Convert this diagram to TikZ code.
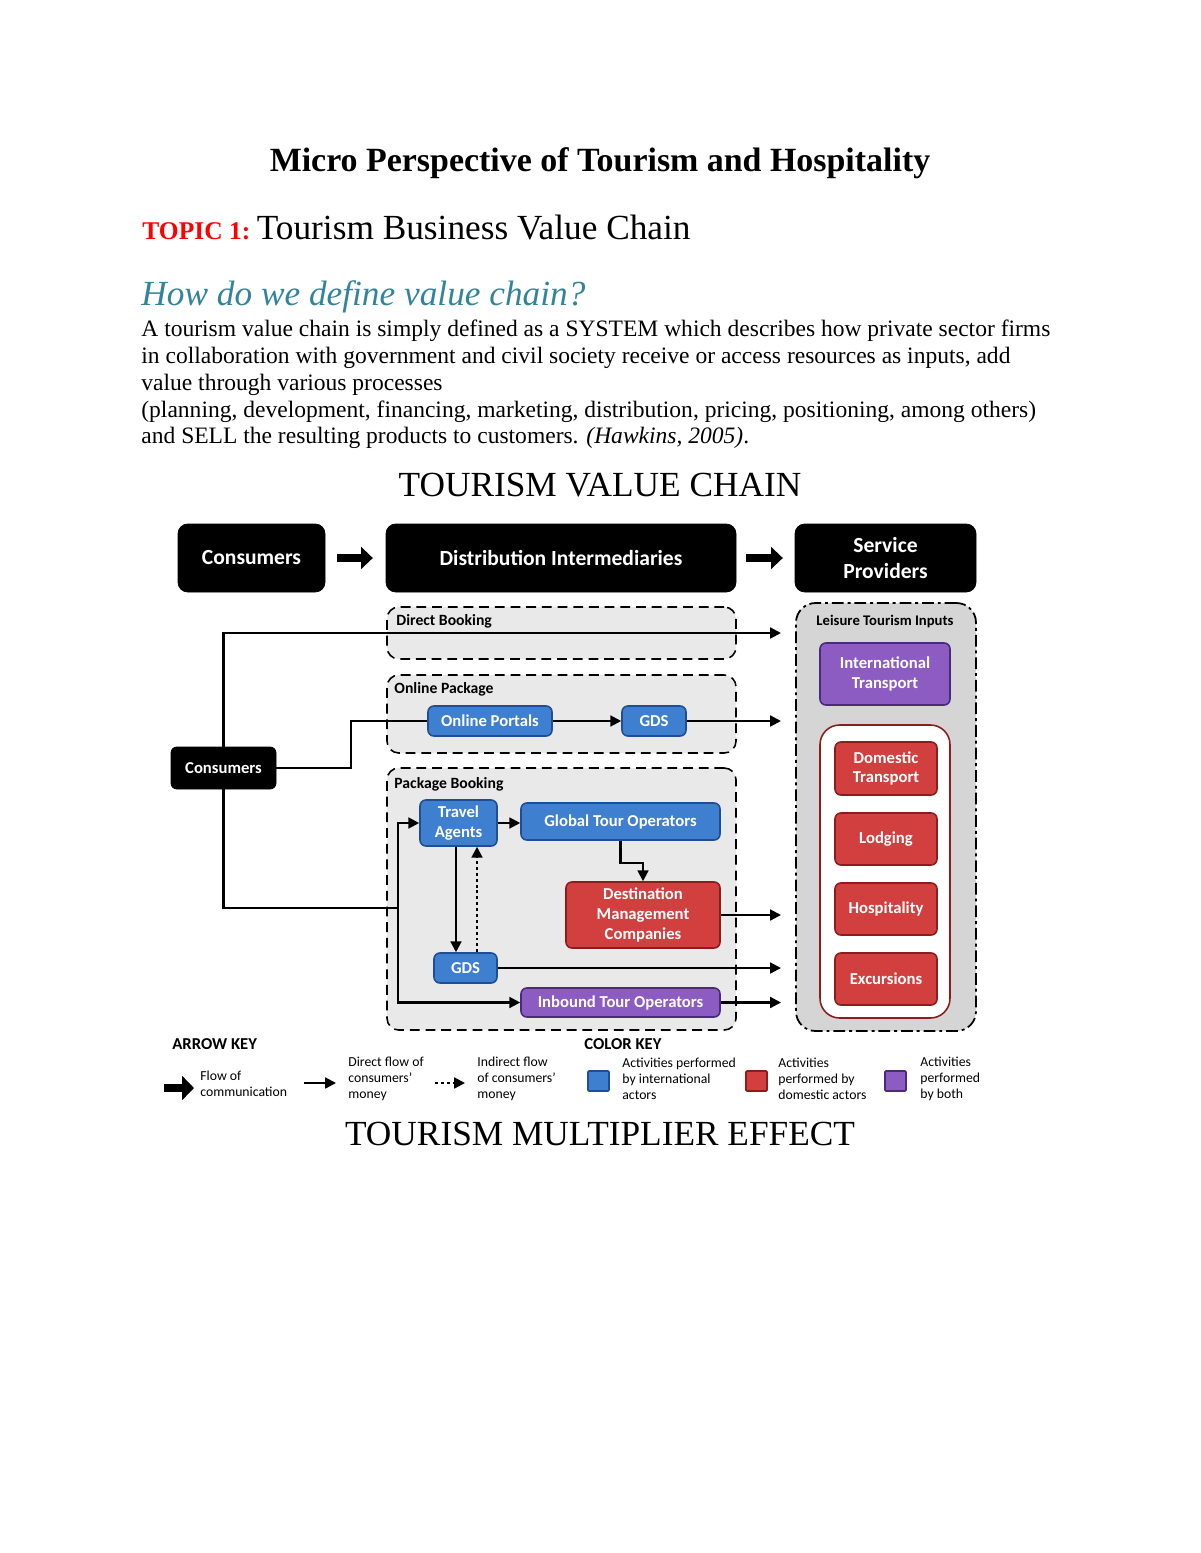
\documentclass[tikz,border=0pt]{standalone}
\usepackage{fontspec}
\setmainfont{Liberation Serif}
\newfontfamily\diag{Carlito}
\usetikzlibrary{arrows.meta}
\definecolor{teal1}{HTML}{31849B}
\definecolor{bluef}{HTML}{3F7FD0}
\definecolor{blued}{HTML}{1F4E94}
\definecolor{redf}{HTML}{D13F3F}
\definecolor{redd}{HTML}{8E1C1C}
\definecolor{purf}{HTML}{8C5CC2}
\definecolor{purd}{HTML}{4A2A7C}
\definecolor{grayA}{HTML}{E9E9E9}
\definecolor{grayB}{HTML}{D5D5D5}
\begin{document}
\begin{tikzpicture}[x=0.51pt,y=-0.51pt,
 place/.style n args={4}{minimum width={(#3-#1)*0.51pt}, minimum height={(#4-#2)*0.51pt}, at={({(#1+#3)/2},{(#2+#4)/2})}},
 blk/.style={fill=black, draw=black, rounded corners=5pt, text=white, font=\diag\bfseries\fontsize{11}{13}\selectfont, align=center, inner sep=1pt},
 act/.style={rounded corners=3pt, line width=0.8pt, text=white, font=\diag\bfseries\fontsize{8.5}{10}\selectfont, align=center, inner sep=1pt},
 bluebox/.style={act, fill=bluef, draw=blued},
 redbox/.style={act, fill=redf, draw=redd},
 purbox/.style={act, fill=purf, draw=purd},
 group/.style={draw=black, dash pattern=on 5pt off 3pt, line width=0.8pt, fill=grayA, rounded corners=6pt, inner sep=0pt},
 leis/.style={draw=black, dash pattern=on 6pt off 2pt on 1.5pt off 2pt, line width=0.9pt, fill=grayB, rounded corners=10pt, inner sep=0pt},
 whitebox/.style={draw=redd, fill=white, line width=0.8pt, rounded corners=10pt, inner sep=0pt},
 grouplabel/.style={font=\diag\bfseries\fontsize{8}{9}\selectfont, anchor=base west, inner sep=0pt},
 conn/.style={line width=1.1pt},
 arr/.style={conn, -{Triangle[length=5.5pt,width=5.5pt]}},
 dotarr/.style={arr, dash pattern=on 1.5pt off 1.5pt},
 bigarr/.style={line width=4.5pt, -{Triangle[length=6pt,width=11pt]}},
 legtext/.style={font=\diag\fontsize{7}{8.2}\selectfont, align=left, inner sep=0pt, anchor=west},
 keyhead/.style={font=\diag\bfseries\fontsize{8.5}{10}\selectfont, anchor=base west, inner sep=0pt},
 body/.style={anchor=base west, inner sep=0pt, font=\fontsize{12}{14}\selectfont}
]
\useasboundingbox (0,0) rectangle (1200,1553);

% ---------- page text ----------
\node[anchor=base, inner sep=0pt, font=\bfseries\fontsize{17.3}{20}\selectfont] (title) at (600,172) {Micro Perspective of Tourism and Hospitality};
\node[anchor=base west, inner sep=0pt] (topic) at (142,239) {{\color{red}\bfseries\fontsize{13}{15}\selectfont TOPIC 1:} \fontsize{18}{21}\selectfont Tourism Business Value Chain};
\node[anchor=base west, inner sep=0pt, text=teal1, font=\itshape\fontsize{18}{21}\selectfont] (q) at (141,305) {How do we define value chain?};
\node[body] (b1) at (141,336) {A tourism value chain is simply defined as a SYSTEM which describes how private sector firms};
\node[body] (b2) at (141,363) {in collaboration with government and civil society receive or access resources as inputs, add};
\node[body] (b3) at (141,390) {value through various processes};
\node[body] (b4) at (141,417) {(planning, development, financing, marketing, distribution, pricing, positioning, among others)};
\node[body] (b5) at (141,443) {and SELL the resulting products to customers. \textit{(Hawkins, 2005)}.};
\node[anchor=base, inner sep=0pt, font=\fontsize{18}{21}\selectfont] (tvc) at (600,496) {TOURISM VALUE CHAIN};
\node[anchor=base, inner sep=0pt, font=\fontsize{18}{21}\selectfont] (tme) at (600,1145) {TOURISM MULTIPLIER EFFECT};

% ---------- header row ----------
\node[blk, place={178}{524}{325}{592}] (cons1) {Consumers};
\node[blk, place={386}{524}{736}{592}] (dist) {Distribution Intermediaries};
\node[blk, place={795}{524}{976}{592}] (serv) {Service\\Providers};
\draw[bigarr] ([xshift=6pt]cons1.east) -- ([xshift=-6.5pt]dist.west);
\draw[bigarr] ([xshift=5pt]dist.east) -- ([xshift=-6pt]serv.west);

% ---------- groups ----------
\node[group, place={387}{607}{736}{659}] (db) {};
\node[grouplabel] (dbl) at (396,625) {Direct Booking};
\node[group, place={387}{675}{736}{753}] (opk) {};
\node[grouplabel] (opl) at (394,693) {Online Package};
\node[group, place={387}{768}{736}{1030}] (pb) {};
\node[grouplabel] (pbl) at (394,788) {Package Booking};

\node[leis, place={796}{603}{976}{1031}] (lti) {};
\node[font=\diag\bfseries\fontsize{7.5}{9}\selectfont, anchor=base, inner sep=0pt] (ltil) at (885,625) {Leisure Tourism Inputs};
\node[purbox, place={820}{643}{950}{705}] (it) {International\\Transport};
\node[whitebox, place={820}{725}{950}{1018}] (dom) {};
\node[redbox, place={835}{742}{937}{795}] (dt) {Domestic\\Transport};
\node[redbox, place={835}{813}{937}{865}] (lod) {Lodging};
\node[redbox, place={835}{883}{937}{935}] (hos) {Hospitality};
\node[redbox, place={835}{953}{937}{1005}] (exc) {Excursions};

% ---------- actors ----------
\node[blk, rounded corners=3pt, font=\diag\bfseries\fontsize{8.5}{10}\selectfont, place={171}{747}{276}{789}] (cons2) {Consumers};
\node[bluebox, place={428}{706}{552}{736}] (op) {Online Portals};
\node[bluebox, place={622}{706}{686}{736}] (gds1) {GDS};
\node[bluebox, place={420}{800}{497}{846}] (ta) {Travel\\Agents};
\node[bluebox, place={521}{803}{720}{840}] (gto) {Global Tour Operators};
\node[redbox, place={566}{882}{720}{948}] (dmc) {Destination\\Management\\Companies};
\node[bluebox, place={434}{953}{497}{983}] (gds2) {GDS};
\node[purbox, place={521}{988}{720}{1017}] (ito) {Inbound Tour Operators};

% ---------- coordinates ----------
\coordinate (e1) at (781,633);
\coordinate (e2) at (781,720);
\coordinate (e3) at (781,915);
\coordinate (e4) at (781,967);
\coordinate (e5) at (781,1002);
\coordinate (j1) at (398,908);
\coordinate (k1) at (351,768);
\coordinate (c456) at (456,0);
\coordinate (c477) at (477,0);

% ---------- connectors ----------
\draw[arr] (cons2.north) |- (e1);
\draw[conn] (cons2.east) -- (k1) |- (op.west);
\draw[arr] (op.east) -- (op.east -| gds1.west);
\draw[arr] (gds1.east) -- (gds1.east -| e2);
\draw[conn] (cons2.south) |- (j1);
\draw[arr] (j1) |- (ta.west);
\draw[arr] (j1) |- (ito.west);
\draw[arr] (ta.east) -- (ta.east -| gto.west);
\draw[arr] (gto.south) -- ++(0,22) -| (dmc.north);
\draw[arr] (dmc.east) -- (dmc.east -| e3);
\draw[arr] (gds2.east) -- (gds2.east -| e4);
\draw[arr] (ito.east) -- (ito.east -| e5);
\draw[arr] (ta.south -| c456) -- (gds2.north -| c456);
\draw[dotarr] (gds2.north -| c477) -- (ta.south -| c477);

% ---------- legend ----------
\node[keyhead] (ak) at (172,1049) {ARROW KEY};
\coordinate (la1) at (164,1088);
\coordinate (la2) at (194,1088);
\draw[line width=4.5pt, -{Triangle[length=6pt,width=12pt]}] (la1) -- (la2);
\node[legtext] (lt1) at (200,1084) {Flow of\\communication};
\coordinate (lb1) at (304,1083);
\coordinate (lb2) at (336,1083);
\draw[arr] (lb1) -- (lb2);
\node[legtext] (lt2) at (348,1079) {Direct flow of\\consumers’\\money};
\coordinate (lc1) at (435,1083);
\coordinate (lc2) at (465,1083);
\draw[dotarr] (lc1) -- (lc2);
\node[legtext] (lt3) at (477,1079) {Indirect flow\\of consumers’\\money};
\node[keyhead] (ck) at (584,1049) {COLOR KEY};
\node[act, fill=bluef, draw=blued, rounded corners=0.5pt, place={588}{1071}{609}{1091}] (sqb) {};
\node[legtext] (lt4) at (622,1079) {Activities performed\\by international\\actors};
\node[act, fill=redf, draw=redd, rounded corners=0.5pt, place={746}{1071}{767}{1091}] (sqr) {};
\node[legtext] (lt5) at (778,1079) {Activities\\performed by\\domestic actors};
\node[act, fill=purf, draw=purd, rounded corners=0.5pt, place={885}{1071}{906}{1091}] (sqp) {};
\node[legtext] (lt6) at (920,1079) {Activities\\performed\\by both};
\end{tikzpicture}
\end{document}
